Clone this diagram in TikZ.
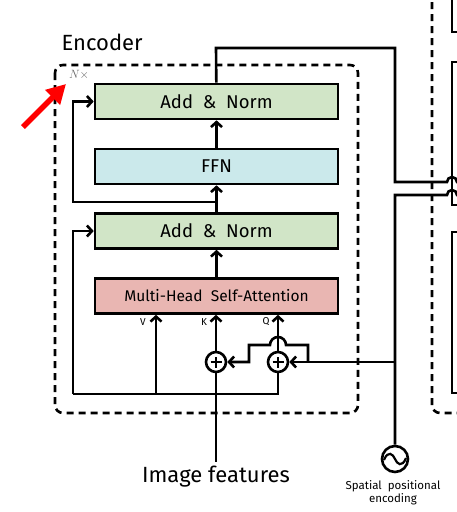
\documentclass[tikz,border=0pt]{standalone}
\usepackage{fontspec}
\setmainfont{Fira Sans}
\usetikzlibrary{arrows.meta}

\definecolor{addgreen}{RGB}{209,229,199}
\definecolor{ffncyan}{RGB}{203,233,235}
\definecolor{attnpink}{RGB}{233,182,178}

\tikzset{
  block/.style={draw, line width=2.6pt, minimum width=243pt, minimum height=35pt, inner sep=0pt, font=\fontsize{18.5}{20}\selectfont},
  plusnode/.style={draw, circle, line width=2.6pt, minimum size=20pt, inner sep=0pt,
    path picture={\draw[line width=2.2pt] ([xshift=-5.5pt]path picture bounding box.center) -- ([xshift=5.5pt]path picture bounding box.center);
                  \draw[line width=2.2pt] ([yshift=-5.5pt]path picture bounding box.center) -- ([yshift=5.5pt]path picture bounding box.center);}},
  inlabel/.style={font=\fontsize{10}{11}\selectfont},
  frame/.style={line width=2.6pt, dash pattern=on 7pt off 5pt, rounded corners=8pt}
}

\begin{document}
\begin{tikzpicture}[x=1pt, y=-1pt, line width=2.6pt, >={Straight Barb[length=5pt,width=11pt]}]

\useasboundingbox (0,0) rectangle (457,512);

% encoder frame
\draw[frame] (55,65) rectangle (358,413);
\node[anchor=west, font=\fontsize{22}{24}\selectfont] (enclbl) at (57,42) {Encoder};
\node[text=black!60, font=\fontsize{12}{13}\selectfont] (nrep) at (79,75) {$N\times$};

% decoder frame, cut off at the right
\draw[frame] (432,-10) -- (432,413) -- (470,413);
\draw (470,32) -- (452,32) -- (452,-10);
\draw (470,205) -- (452,205) -- (452,62) -- (470,62);
\draw (470,232) -- (452,232) -- (452,393) -- (470,393);

% blocks
\node[block, fill=addgreen] (addnormtop) at (216.5,101.5) {Add\ \ \&\ \ Norm};
\node[block, fill=ffncyan] (ffn) at (216.5,166.5) {FFN};
\node[block, fill=addgreen] (addnorm) at (216.5,231) {Add\ \ \&\ \ Norm};
\node[block, fill=attnpink, font=\fontsize{15.5}{17}\selectfont] (mhsa) at (216.5,296) {Multi-Head\ \ Self-Attention};

\node[plusnode] (kplus) at (216,362) {};
\node[plusnode] (qplus) at (278,362) {};

\node[inlabel] (vlbl) at (143,322) {V};
\node[inlabel] (klbl) at (204,322) {K};
\node[inlabel] (qlbl) at (266,322) {Q};

\node[font=\fontsize{22}{24}\selectfont] (imgfeat) at (216,477) {Image features};

\node[draw, circle, line width=2.6pt, minimum size=26pt, inner sep=0pt,
  path picture={\draw[line width=2.2pt, shift={(path picture bounding box.center)}]
    (-11pt,-1pt) .. controls (-7pt,9pt) and (-2pt,5pt) .. (0pt,0pt) .. controls (2pt,-5pt) and (7pt,-9pt) .. (11pt,1pt);}]
  (posenc) at (395,459) {};
\node[align=center, font=\fontsize{11.5}{13}\selectfont] (pelbl) at (393,493) {Spatial\ \ positional\\encoding};

\coordinate (split) at (216,394);
\coordinate (resleft) at (73,394);
\coordinate (vin) at (156,394);
\coordinate (res1) at (216,202);
\coordinate (res1l) at (73,202);
\coordinate (outtop) at (216,48);
\coordinate (outright) at (395,48);
\coordinate (outdec) at (395,182);
\coordinate (peturn) at (395,195);
\coordinate (pebranch) at (395,362);
\coordinate (brr) at (308,362);
\coordinate (redtail) at (23,127);
\coordinate (redtip) at (66,84);

% inputs
\draw (imgfeat.north) -- (kplus);
\draw[->] (kplus) -- (kplus |- mhsa.south);
\draw[->] (qplus) -- (qplus |- mhsa.south);
\draw (qplus) |- (resleft);
\draw[->] (vin) -- (vin |- mhsa.south);
\draw[->] (resleft) |- (addnorm.west);

% positional encoding
\draw (posenc) -- (peturn) -- ++(52,0) arc[start angle=180, end angle=0, radius=5pt] -- ++(5,0);
\draw[->] (pebranch) -- (qplus);
\draw[->] (brr) -- (308,345) -- (286,345) arc[start angle=0, end angle=180, radius=8pt] -- (249,345) -- (249,362) -- (kplus);

% encoder layer
\draw[->] (mhsa) -- (addnorm);
\draw[->] (addnorm) -- (ffn);
\draw[->] (ffn) -- (addnormtop);
\draw[->] (res1) -- (res1l) |- (addnormtop.west);
\draw (addnormtop) -- (outtop) -- (outright) -- (outdec) -- ++(52,0) arc[start angle=180, end angle=0, radius=5pt] -- ++(5,0);

\draw[red, line width=5.5pt, -{Triangle[length=19pt,width=20pt]}] (redtail) -- (redtip);

\end{tikzpicture}
\end{document}
